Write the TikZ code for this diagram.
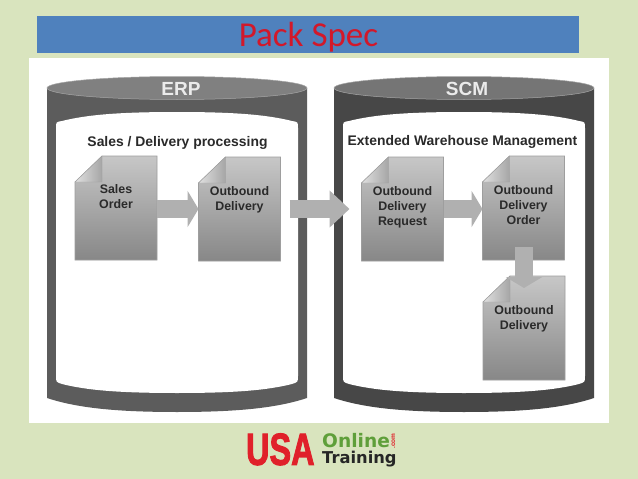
\documentclass[tikz,border=0pt]{standalone}
\usepackage{fontspec}
\setmainfont{Liberation Sans}
\newfontfamily\carlito{Carlito}
\newfontfamily\dejavu{DejaVu Sans}
\newfontfamily\heavy[FakeBold=2.5]{Liberation Sans Bold}
\usetikzlibrary{arrows.meta}
\definecolor{slidebg}{HTML}{D9E4BE}
\definecolor{band}{HTML}{4F81BD}
\definecolor{titlered}{HTML}{D2182A}
\definecolor{logored}{HTML}{E0202A}
\definecolor{logogreen}{HTML}{5F9F3A}
\definecolor{arrowgray}{HTML}{B0B0B0}
\definecolor{ink}{HTML}{2A2A2A}
\tikzset{
  px/.style={x=1pt,y=-1pt},
  docbox/.style={minimum width=82pt,minimum height=104pt,inner sep=0pt,outer sep=0pt},
  doclabel/.style={anchor=north,align=center,inner sep=0pt,text=ink,font=\fontsize{12.4}{15}\selectfont\bfseries},
  heading/.style={text=ink,inner sep=0pt,font=\fontsize{13.9}{15}\selectfont\bfseries},
  cyltitle/.style={text=white!92!black,inner sep=0pt,font=\fontsize{19}{21}\selectfont\bfseries},
  blockarrow/.style={line width=18pt,draw=arrowgray,-{Triangle[length=#1,width=36pt,color=arrowgray]}},
  blockarrow/.default=11pt,
}
\newcommand{\docnode}[5]{% name, cx, cy, label, label offset
  \node[docbox] (#1) at (#2,#3) {};
  \path[top color=black!22,bottom color=black!47,draw=black!38,line width=.6pt]
    ([yshift=-26pt]#1.north west) -- ([xshift=27pt]#1.north west) -- (#1.north east)
    -- (#1.south east) -- (#1.south west) -- cycle;
  \path[left color=black!12,right color=black!35,draw=black!38,line width=.4pt]
    ([yshift=-26pt]#1.north west) -- ([xshift=27pt]#1.north west) -- ([shift={(27pt,-26pt)}]#1.north west) -- cycle;
  \node[doclabel] (#1-t) at ([yshift=-#5]#1.north) {#4};
}
\newcommand{\cylinder}[4]{% name, left x, body colour, lid colour
  \pgfmathsetmacro{\xl}{#2}
  \pgfmathsetmacro{\xr}{#2+260}
  \pgfmathsetmacro{\xc}{#2+130}
  \pgfmathsetmacro{\il}{#2+9}
  \pgfmathsetmacro{\ir}{#2+251}
  \fill[#3] (\xl,88) -- (\xl,398) .. controls (\xl+30,408) and (\xc-60,412) .. (\xc,412)
     .. controls (\xc+60,412) and (\xr-30,408) .. (\xr,398) -- (\xr,88) -- cycle;
  \fill[white] (\il,128) .. controls (\il,122) and (\il,122) .. (\il+6,121)
     .. controls (\il+30,115) and (\xc-60,112) .. (\xc,112)
     .. controls (\xc+60,112) and (\ir-30,115) .. (\ir-6,121)
     .. controls (\ir,122) and (\ir,122) .. (\ir,128)
     -- (\ir,376) .. controls (\ir,382) and (\ir,382) .. (\ir-6,384)
     .. controls (\ir-30,390) and (\xc+60,393) .. (\xc,393)
     .. controls (\xc-60,393) and (\il+30,390) .. (\il+6,384)
     .. controls (\il,382) and (\il,382) .. (\il,376) -- cycle;
  \fill[#4,draw=black!35,line width=.5pt] (\xc,88) ellipse [x radius=130,y radius=11.5];
}
\begin{document}
\begin{tikzpicture}[px]
  \useasboundingbox (0,0) rectangle (638,479);
  \fill[slidebg] (0,0) rectangle (638,479);
  \node[fill=band,minimum width=542pt,minimum height=37pt,inner sep=0pt] (bandbox) at (308,34.5) {};
  \node[text=titlered,inner sep=0pt,font=\carlito\fontsize{35}{37}\selectfont] (title) at (308.5,37) {Pack Spec};
  \fill[white] (29,58) rectangle (609,423);

  \cylinder{erp}{47}{black!64}{black!50}
  \cylinder{scm}{334}{black!72}{black!54}
  \node[cyltitle] (erpt) at (181,89) {ERP};
  \node[cyltitle] (scmt) at (467,89) {SCM};
  \node[heading] (h1) at (177.5,142.5) {Sales / Delivery processing};
  \node[heading] (h2) at (462.5,142) {Extended Warehouse Management};

  \docnode{so}{116}{208}{Sales\\Order}{28pt}
  \docnode{od}{239.5}{209}{Outbound\\Delivery}{29pt}
  \docnode{req}{402.5}{209}{Outbound\\Delivery\\Request}{29pt}
  \docnode{ord}{523.5}{208}{Outbound\\Delivery\\Order}{29pt}
  \docnode{del}{524}{328}{Outbound\\Delivery}{29pt}

  \draw[blockarrow] (so.east |- od.west) -- (od.west);
  \draw[blockarrow=20pt,shorten <=9pt,shorten >=12pt] (od.east) -- (req.west);
  \draw[blockarrow] (req.east) -- (req.east -| ord.west);
  \draw[blockarrow,shorten <=-13pt,shorten >=-12pt] (del.north |- ord.south) -- (del.north);

  % logo
  \node[text=logored,inner sep=0pt,anchor=south west,xscale=.72,font=\heavy\fontsize{45}{45}\selectfont] (usa) at (246,465.5) {USA};
  \node[text=logogreen,inner sep=0pt,anchor=base west,font=\dejavu\fontsize{18.6}{19}\selectfont\bfseries] (online) at (322,447.5) {Online};
  \node[text=black!85,inner sep=0pt,anchor=base west,font=\dejavu\fontsize{16.3}{17}\selectfont\bfseries] (training) at (322,463) {Training};
  \node[text=logored,inner sep=0pt,rotate=90,font=\fontsize{6.5}{7}\selectfont\bfseries] (com) at (393.5,441) {.com};
\end{tikzpicture}
\end{document}
